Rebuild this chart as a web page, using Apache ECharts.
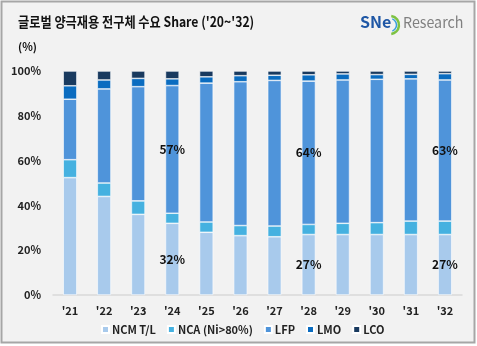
<!DOCTYPE html>
<html><head><meta charset="utf-8">
<script src="https://cdn.jsdelivr.net/npm/echarts@6/dist/echarts.min.js"></script>
<style>html,body{margin:0;padding:0;background:#fff}#c{width:477px;height:346px}</style>
</head><body><div id="c"></div>
<script>
const categories = ["'21","'22","'23","'24","'25","'26","'27","'28","'29","'30","'31","'32"];
const ncm = [52.4, 44, 36, 32, 28, 26.5, 26, 27, 27, 27, 27, 27];
const nca = [8, 6, 6, 4.5, 4.6, 4.5, 4.8, 4.5, 5, 5.3, 6, 6];
const lfp = [27, 42, 51, 57, 62, 64.2, 65, 64, 64, 64, 63.5, 63];
const lmo = [6, 4, 3.7, 3, 2.8, 2.7, 2.3, 2.8, 2.7, 2.1, 2, 2.8];
const lco = [6.6, 4, 3.3, 3.5, 2.6, 2.1, 1.9, 1.7, 1.3, 1.6, 1.5, 1.2];
const labelIdx = [3, 7, 11];
const yTicks = [0, 20, 40, 60, 80, 100];
const seriesNames = ['NCM T/L', 'NCA (Ni>80%)', 'LFP', 'LMO', 'LCO'];
const colors = ['#A8CAEC', '#45B1E0', '#4F94DA', '#0A6CC0', '#193A5F'];

const FONT = '"Noto Sans CJK KR", "Noto Sans", sans-serif';
function mk(name, arr, color, showLabels) {
  return {
    name: name, type: 'bar', stack: 's', barWidth: '40%',
    itemStyle: { color: color, borderColor: '#ffffff', borderWidth: 0.6 },
    data: arr.map((v, i) => ({
      value: v,
      label: (showLabels && labelIdx.includes(i)) ? {
        show: true, position: 'inside', formatter: '{c}%',
        color: '#111', fontWeight: 'bold', fontSize: 12, fontFamily: FONT
      } : { show: false }
    }))
  };
}
const chart = echarts.init(document.getElementById('c'), null, { renderer: 'canvas' });
chart.setOption({
  animation: false,
  backgroundColor: '#ffffff',
  graphic: [
    { type: 'rect', shape: { x: 1.5, y: 1.5, width: 473, height: 341 }, style: { fill: '#F2F2F2', stroke: '#A6A6A6', lineWidth: 2 }, z: -10 },
    { type: 'text', x: 18, y: 15, scaleX: 0.87, style: { text: "글로벌 양극재용 전구체 수요 Share ('20~'32)", font: 'bold 14px ' + FONT, fill: '#111' } },
    { type: 'text', x: 18, y: 41, style: { text: '(%)', font: 'bold 11px ' + FONT, fill: '#111' } },
    { type: 'text', x: 360, y: 14, style: { text: 'SN', font: 'bold 16px ' + FONT, fill: '#1F57A5' } },
    { type: 'text', x: 382, y: 14, style: { text: 'e', font: 'bold 16px ' + FONT, fill: '#1F57A5' } },
    { type: 'arc', shape: { cx: 390, cy: 25, r: 9, startAngle: -Math.PI / 2.2, endAngle: Math.PI / 2.2 }, style: { stroke: '#7DC242', lineWidth: 2.5, fill: 'none' } },
    { type: 'arc', shape: { cx: 390, cy: 25, r: 6.5, startAngle: -Math.PI / 2.6, endAngle: Math.PI / 2.6 }, style: { stroke: '#3AA0DC', lineWidth: 1.5, fill: 'none' } },
    { type: 'text', x: 403, y: 15, scaleX: 0.95, style: { text: 'Research', font: '15px ' + FONT, fill: '#808080' } }
  ],
  grid: { left: 53, right: 15, top: 71, bottom: 51 },
  legend: {
    left: 96, top: 319, itemWidth: 7, itemHeight: 7, itemGap: 11, icon: 'rect',
    textStyle: { fontFamily: FONT, fontWeight: 'bold', fontSize: 11, color: '#222', padding: [0, 0, 0, -2] },
    data: seriesNames
  },
  xAxis: {
    type: 'category', data: categories,
    axisLine: { lineStyle: { color: '#D9D9D9', width: 1.5 } },
    axisTick: { show: false },
    axisLabel: { fontFamily: FONT, fontWeight: 'bold', fontSize: 11, color: '#222', margin: 10 }
  },
  yAxis: {
    type: 'value', min: 0, max: 100, interval: 20,
    axisLine: { show: false }, axisTick: { show: false }, splitLine: { show: false },
    axisLabel: { fontFamily: FONT, fontWeight: 'bold', fontSize: 11, color: '#222', margin: 12,
      formatter: v => yTicks.includes(v) ? v + '%' : '' }
  },
  series: [
    mk(seriesNames[0], ncm, colors[0], true),
    mk(seriesNames[1], nca, colors[1], false),
    mk(seriesNames[2], lfp, colors[2], true),
    mk(seriesNames[3], lmo, colors[3], false),
    mk(seriesNames[4], lco, colors[4], false)
  ]
});
</script></body></html>
